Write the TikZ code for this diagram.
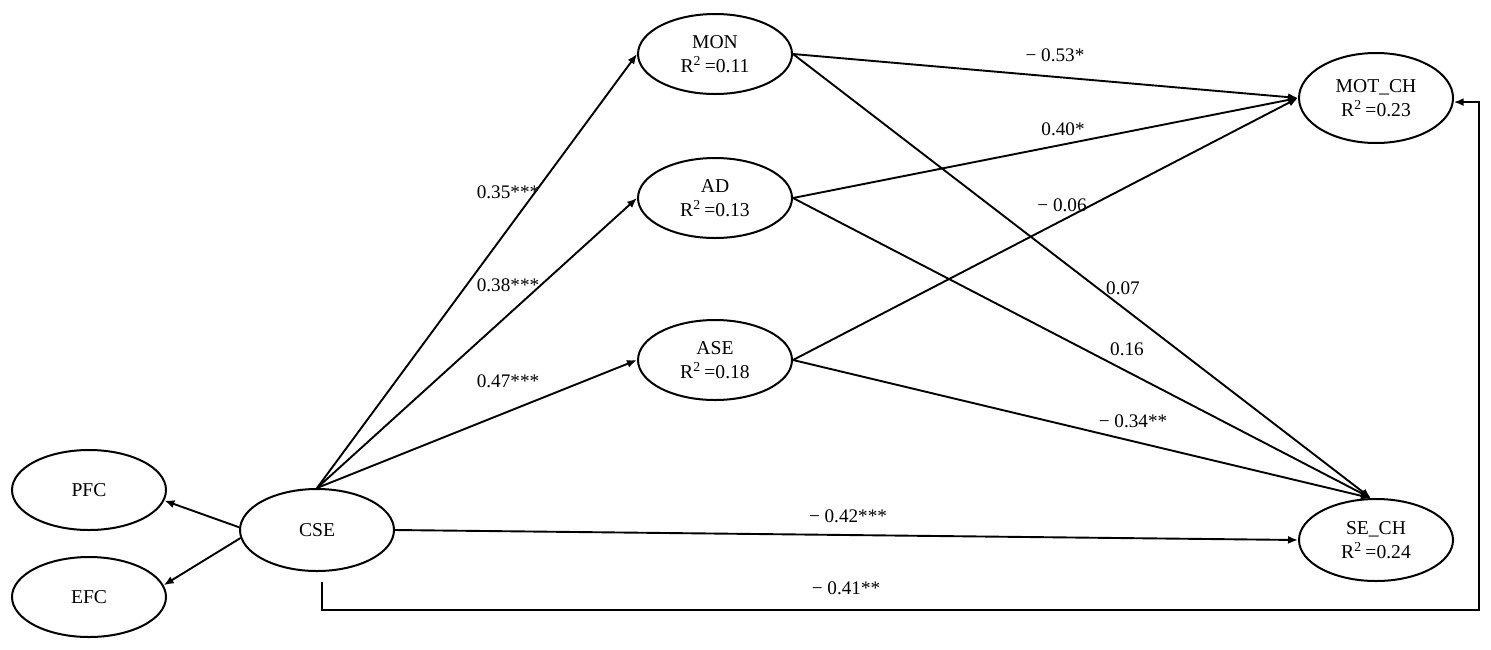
\documentclass[tikz,border=0pt]{standalone}
\usepackage{fontspec}
\setmainfont{Liberation Serif}
\usetikzlibrary{shapes.geometric,arrows.meta}
\begin{document}
\begin{tikzpicture}[x=0.5pt,y=-0.5pt,
  lat/.style={draw,ellipse,line width=1pt,inner sep=0pt,minimum width=77pt,minimum height=40pt,align=center,font=\fontsize{9.8}{12}\selectfont},
  arr/.style={line width=0.95pt,-{Latex[length=5pt,width=4pt]}},
  lab/.style={font=\fontsize{9.6}{11}\selectfont,inner sep=0pt}]
\useasboundingbox (0,0) rectangle (1491,649);
% nodes
\node[lat] (MON) at (715,54) {MON\\R\textsuperscript{2}\,=0.11};
\node[lat] (AD) at (715,198) {AD\\R\textsuperscript{2}\,=0.13};
\node[lat] (ASE) at (715,360) {ASE\\R\textsuperscript{2}\,=0.18};
\node[lat,minimum height=45pt] (MOT) at (1376,98) {MOT\_CH\\R\textsuperscript{2}\,=0.23};
\node[lat,minimum height=41pt] (SE) at (1376,540) {SE\_CH\\R\textsuperscript{2}\,=0.24};
\node[lat,minimum height=41pt] (CSE) at (317,530) {CSE};
\node[lat] (PFC) at (89,490) {PFC};
\node[lat] (EFC) at (89,597) {EFC};
\coordinate (cseb) at (322,582);
% arrows
\draw[arr] (CSE.178) -- (PFC.-8);
\draw[arr] (CSE.186) -- (EFC.9);
\draw[arr] (CSE.north) -- (MON.west);
\draw[arr] (CSE.north) -- (AD.west);
\draw[arr] (CSE.north) -- (ASE.west);
\draw[arr] (CSE.east) -- (SE.west);
\draw[arr] (MON.east) -- (MOT.west);
\draw[arr] (MON.east) -- (SE.97);
\draw[arr] (AD.east) -- (MOT.west);
\draw[arr] (AD.east) -- (SE.97);
\draw[arr] (ASE.east) -- (MOT.west);
\draw[arr] (ASE.east) -- (SE.97);
\draw[arr] (cseb) |- (1479,610) |- (MOT.-3);
% labels
\node[lab] (l1) at (1055,55) {− 0.53*};
\node[lab] (l2) at (1063,129) {0.40*};
\node[lab] (l3) at (1062,205) {− 0.06};
\node[lab] (l4) at (1123,288) {0.07};
\node[lab] (l5) at (1127,349) {0.16};
\node[lab] (l6) at (1133,421) {− 0.34**};
\node[lab] (l7) at (508,192) {0.35***};
\node[lab] (l8) at (508,285) {0.38***};
\node[lab] (l9) at (508,381) {0.47***};
\node[lab] (l10) at (848,516) {− 0.42***};
\node[lab] (l11) at (846,588) {− 0.41**};
\end{tikzpicture}
\end{document}
